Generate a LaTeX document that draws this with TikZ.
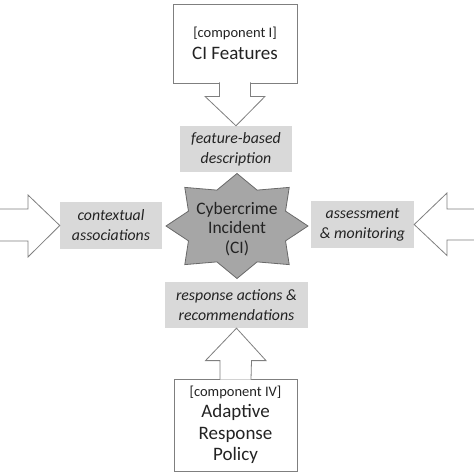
\documentclass[tikz,border=0pt]{standalone}
\usepackage{fontspec}
\setmainfont{Carlito}
\usepackage{tikz}
\usetikzlibrary{calc,backgrounds}
\definecolor{ciline}{RGB}{127,127,127}
\definecolor{cistarline}{RGB}{105,105,105}
\definecolor{cilabel}{RGB}{217,217,217}
\definecolor{cistar}{RGB}{166,166,166}
\definecolor{citext}{RGB}{35,35,35}
\tikzstyle{component} = [rectangle, draw=ciline, line width=0.8pt, fill=white, align=center, text=citext, font=\fontsize{19}{21.5}\selectfont]
\tikzstyle{relation} = [rectangle, fill=cilabel, align=center, inner sep=0pt, text=citext, font=\fontsize{15.8}{20}\selectfont\itshape]
\tikzstyle{blockarrow} = [draw=ciline, line width=0.8pt, fill=white, line join=miter]
\tikzstyle{starline} = [draw=cistarline, line width=0.8pt, fill=cistar, line join=miter]
\newcommand{\comptag}[1]{{\fontsize{14.5}{16}\selectfont [component #1]}}

\begin{document}
\begin{tikzpicture}[x=1pt,y=-1pt]
\useasboundingbox (0,0) rectangle (474,474);
% components
\node[component, minimum width=124pt, minimum height=79pt] (feat) at (235,43.5) {\comptag{I}\\CI Features};
\node[component, minimum width=123pt, minimum height=92pt] (policy) at (235.5,425) {\comptag{IV}\\Adaptive\\Response\\Policy};

% relations
\node[relation, minimum width=112pt, minimum height=46pt] (desc) at (236,149) {feature-based\\description};
\node[relation, minimum width=102pt, minimum height=47pt] (ctx) at (111,225.5) {contextual\\associations};
\node[relation, minimum width=103pt, minimum height=47pt] (assess) at (362.5,224.5) {assessment\\\& monitoring};
\node[relation, minimum width=143pt, minimum height=46pt] (resp) at (236.5,305) {response actions \&\\recommendations};

% incident
\node[align=center, text=citext, font=\fontsize{17.5}{19.5}\selectfont] (ci) at (237,229) {Cybercrime\\Incident\\(CI)};
\begin{scope}[on background layer]
\draw[starline] ($(ci.center)+(71,-3)$) \foreach \a/\r in {22.5/0.74,45/1.04,67.5/0.74,90/1,112.5/0.74,135/1.04,157.5/0.74,180/1,202.5/0.74,225/1.04,247.5/0.74,270/1,292.5/0.74,315/1.04,337.5/0.74} { -- ($(ci.center)+(0,-3)+({71*\r*cos(\a)},{52.5*\r*sin(\a)})$) } -- cycle;
\end{scope}

% block arrows
\filldraw[blockarrow] ($(feat.south)+(-15.5,-1)$) -- ++(0,14) -- ++(-14.5,0) -- (desc.north) -- ($(feat.south)+(30,13)$) -- ++(-14.5,0) -- ($(feat.south)+(15.5,-1)$);
\filldraw[blockarrow] ($(policy.north)+(-15.5,1)$) -- ++(0,-19) -- ++(-14.5,0) -- (resp.south) -- ($(policy.north)+(30.5,-18)$) -- ++(-14.5,0) -- ($(policy.north)+(15.5,1)$);

\coordinate (lefttail) at (-2,225);
\coordinate (righttail) at (476,224.5);
\filldraw[blockarrow] ($(lefttail)+(0,-16)$) -- ++(30,0) -- ++(0,-14) -- (ctx.west) -- ($(lefttail)+(30,32)$) -- ++(0,-16) -- ($(lefttail)+(0,16)$);
\filldraw[blockarrow] ($(righttail)+(0,-15.5)$) -- ++(-29,0) -- ++(0,-16) -- (assess.east) -- ($(righttail)+(-29,31)$) -- ++(0,-15.5) -- ($(righttail)+(0,15.5)$);
\end{tikzpicture}
\end{document}
